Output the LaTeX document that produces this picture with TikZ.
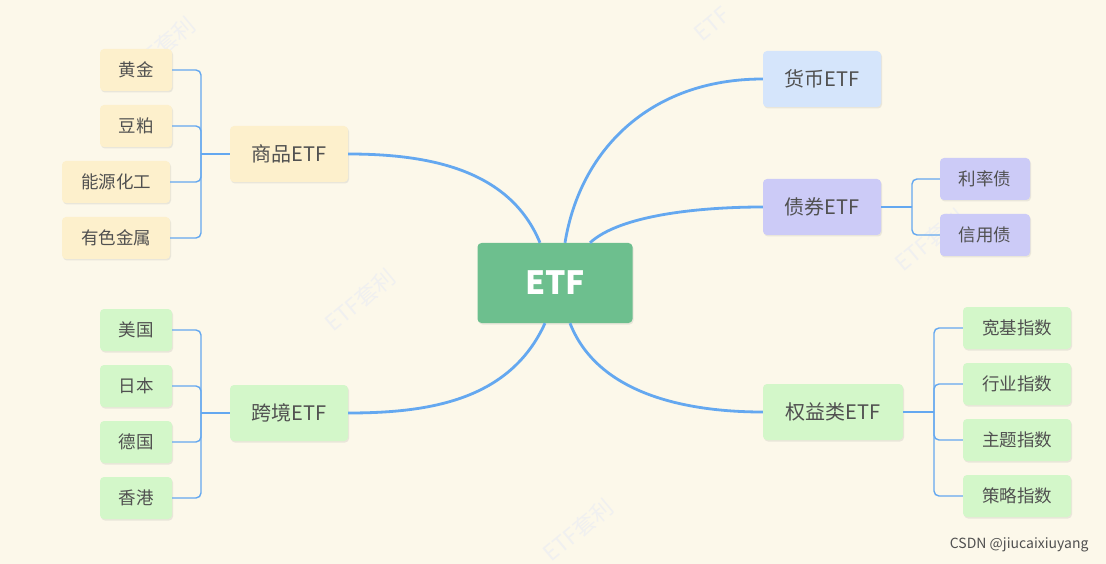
\documentclass[tikz,border=0pt]{standalone}
\usepackage{fontspec}
\setmainfont{Noto Sans CJK SC}
\usetikzlibrary{shadows}
\definecolor{bg}{HTML}{FCF8EA}
\definecolor{txt}{HTML}{505050}
\definecolor{ln}{HTML}{64A8F0}
\definecolor{cY}{HTML}{FDF0CC}
\definecolor{cG}{HTML}{D3F7C9}
\definecolor{cB}{HTML}{D5E5FB}
\definecolor{cP}{HTML}{CCCBF7}
\definecolor{cM}{HTML}{6DBF8E}
\begin{document}
\begin{tikzpicture}[x=1pt,y=-1pt,
 box/.style={rounded corners=4pt,text=txt,inner sep=0pt,font=\fontsize{20}{20}\selectfont,drop shadow={shadow xshift=1pt,shadow yshift=-1.5pt,opacity=0.15}},
 sub/.style={box,minimum height=42pt,font=\fontsize{17.5}{17.5}\selectfont},
 mainb/.style={box,minimum height=56pt},
 con/.style={ln,line width=2.8pt},
 br/.style={ln,line width=1.4pt,rounded corners=5pt},
 wm/.style={text=black!6,rotate=40,font=\fontsize{22}{22}\selectfont}]
\fill[bg] (0,0) rectangle (1106,564);
\useasboundingbox (0,0) rectangle (1106,564);
\node[wm] at (160,48) {ETF套利};
\node[wm] at (712,24) {ETF};
\node[wm] at (360,300) {ETF套利};
\node[wm] at (930,240) {ETF套利};
\node[wm] at (578,530) {ETF套利};
% main
\node[box,fill=cM,minimum width=155pt,minimum height=80pt,text=white,font=\fontsize{32}{32}\selectfont\bfseries] (etf) at (555,283) {ETF};
\node[mainb,fill=cB,minimum width=118pt] (hb) at (822,79) {货币ETF};
\node[mainb,fill=cP,minimum width=118pt] (zq) at (822,207) {债券ETF};
\node[mainb,fill=cG,minimum width=140pt] (qy) at (833,412) {权益类ETF};
\node[mainb,fill=cY,minimum width=118pt] (sp) at (289,154) {商品ETF};
\node[mainb,fill=cG,minimum width=118pt] (kj) at (289,413) {跨境ETF};
% subs
\node[sub,fill=cP,minimum width=90pt] (l1) at (985,179) {利率债};
\node[sub,fill=cP,minimum width=90pt] (l2) at (985,235) {信用债};
\node[sub,fill=cG,minimum width=108pt] (q1) at (1017,328) {宽基指数};
\node[sub,fill=cG,minimum width=108pt] (q2) at (1017,384) {行业指数};
\node[sub,fill=cG,minimum width=108pt] (q3) at (1017,440) {主题指数};
\node[sub,fill=cG,minimum width=108pt] (q4) at (1017,496) {策略指数};
\node[sub,fill=cY,minimum width=72pt] (s1) at (136,70) {黄金};
\node[sub,fill=cY,minimum width=72pt] (s2) at (136,126) {豆粕};
\node[sub,fill=cY,minimum width=108pt] (s3) at (116,182) {能源化工};
\node[sub,fill=cY,minimum width=108pt] (s4) at (116,238) {有色金属};
\node[sub,fill=cG,minimum width=72pt] (k1) at (136,330) {美国};
\node[sub,fill=cG,minimum width=72pt] (k2) at (136,386) {日本};
\node[sub,fill=cG,minimum width=72pt] (k3) at (136,442) {德国};
\node[sub,fill=cG,minimum width=72pt] (k4) at (136,498) {香港};
% connectors
\draw[con] ([xshift=10pt]etf.north) .. controls (580,150) and (650,79) .. (hb.west);
\draw[con] ([xshift=35pt]etf.north) .. controls (620,215) and (700,207) .. (zq.west);
\draw[con] ([xshift=15pt]etf.south) .. controls (600,400) and (700,412) .. (qy.west);
\draw[con] ([xshift=-15pt]etf.north) .. controls (510,170) and (430,154) .. (sp.east);
\draw[con] ([xshift=-10pt]etf.south) .. controls (510,400) and (430,413) .. (kj.east);
% branches
\coordinate (zb) at (912,207);
\draw[br] (zq.east) -- (zb);
\foreach \n in {l1,l2} \draw[br] (zb) |- (\n.west);
\coordinate (qb) at (934,412);
\draw[br] (qy.east) -- (qb);
\foreach \n in {q1,q2,q3,q4} \draw[br] (qb) |- (\n.west);
\coordinate (sb) at (201,154);
\draw[br] (sp.west) -- (sb);
\foreach \n in {s1,s2,s3,s4} \draw[br] (sb) |- (\n.east);
\coordinate (kb) at (201,413);
\draw[br] (kj.west) -- (kb);
\foreach \n in {k1,k2,k3,k4} \draw[br] (kb) |- (\n.east);
\node[text=txt,font=\fontsize{14}{14}\selectfont,anchor=east] (csdn) at (1092,545) {CSDN @jiucaixiuyang};
\end{tikzpicture}
\end{document}
